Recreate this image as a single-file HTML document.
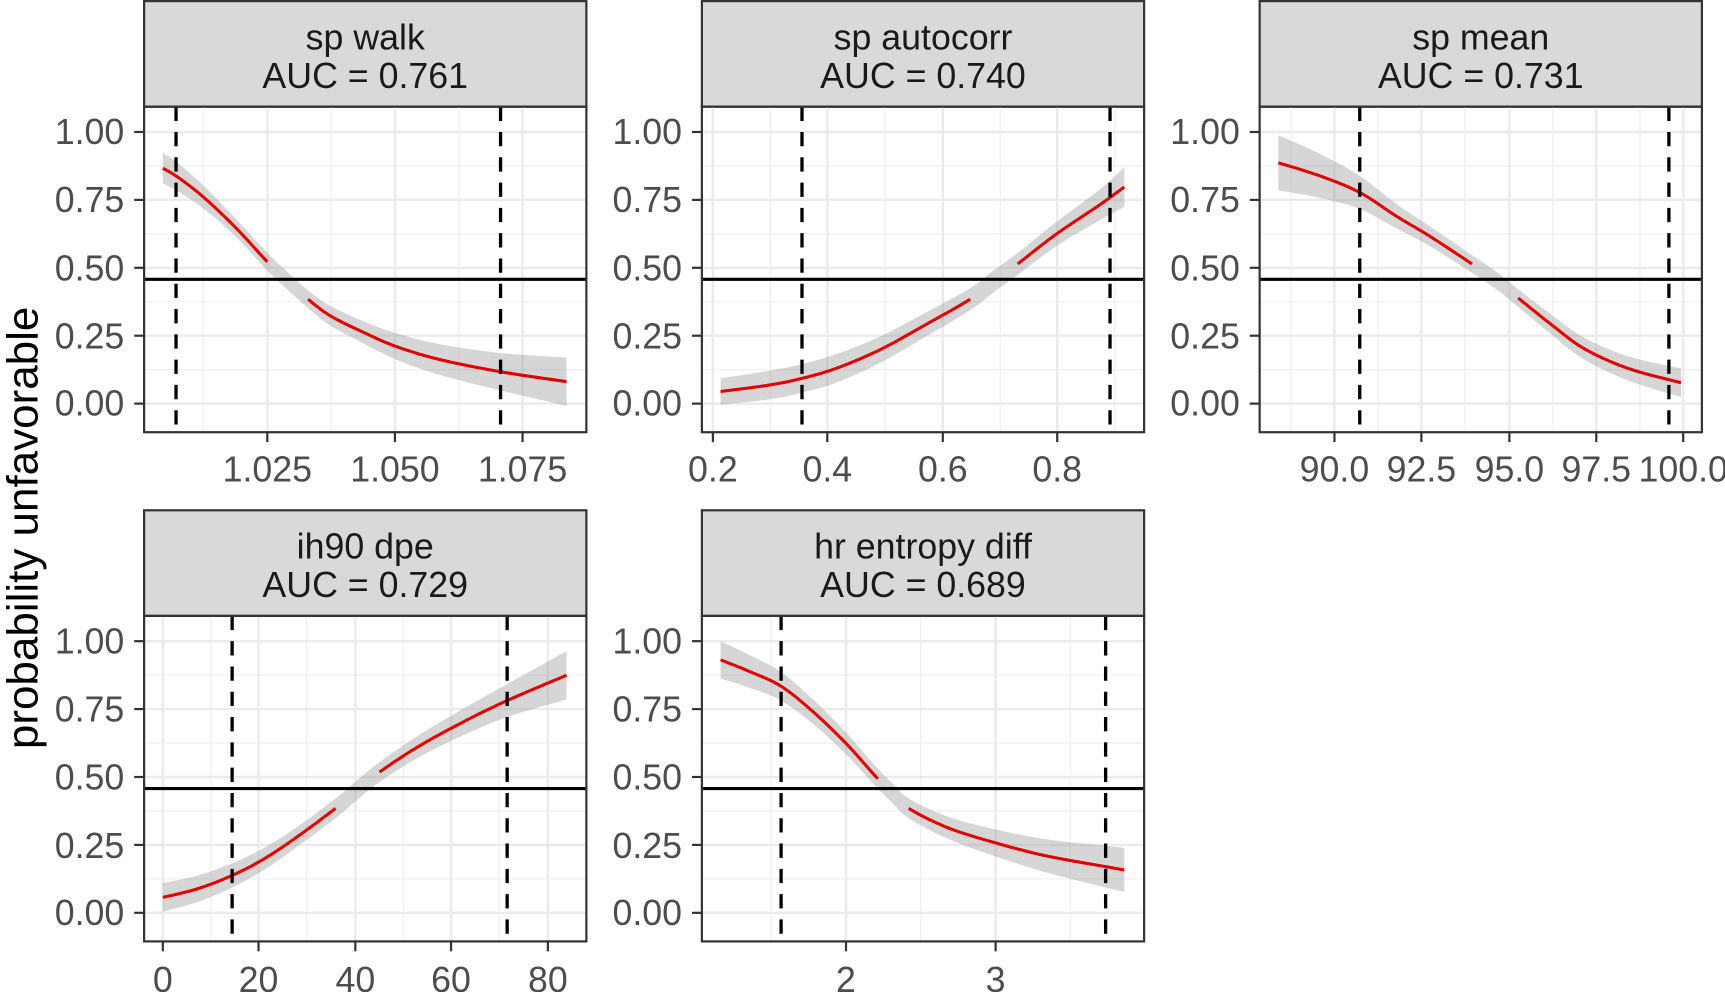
<!DOCTYPE html>
<html><head><meta charset="utf-8"><style>
html,body{margin:0;padding:0;background:#fff;}
svg{display:block;}
text{font-family:"Liberation Sans",Arial,sans-serif;}
.t{font-size:32.5px;fill:#4d4d4d;}
.s{font-size:32.5px;fill:#1a1a1a;text-anchor:middle;}
</style></head><body>
<svg id="c" width="1725" height="992" viewBox="0 0 1568 902" preserveAspectRatio="none" xmlns="http://www.w3.org/2000/svg">
<rect width="1568" height="902" fill="#fff"/>
<g id="g"></g>
<g id="txt">
<text class="s" x="332" y="45">sp walk</text><text class="s" x="332" y="80">AUC = 0.761</text>
<text class="s" x="839" y="45">sp autocorr</text><text class="s" x="839" y="80">AUC = 0.740</text>
<text class="s" x="1346" y="45">sp mean</text><text class="s" x="1346" y="80">AUC = 0.731</text>
<text class="s" x="332" y="508">ih90 dpe</text><text class="s" x="332" y="543">AUC = 0.729</text>
<text class="s" x="839" y="508">hr entropy diff</text><text class="s" x="839" y="543">AUC = 0.689</text>
<g class="t" text-anchor="end">
<text x="113" y="131">1.00</text><text x="113" y="193">0.75</text><text x="113" y="255">0.50</text><text x="113" y="317">0.25</text><text x="113" y="378">0.00</text>
<text x="620" y="131">1.00</text><text x="620" y="193">0.75</text><text x="620" y="255">0.50</text><text x="620" y="317">0.25</text><text x="620" y="378">0.00</text>
<text x="1127" y="131">1.00</text><text x="1127" y="193">0.75</text><text x="1127" y="255">0.50</text><text x="1127" y="317">0.25</text><text x="1127" y="378">0.00</text>
<text x="113" y="594">1.00</text><text x="113" y="656">0.75</text><text x="113" y="718">0.50</text><text x="113" y="780">0.25</text><text x="113" y="841">0.00</text>
<text x="620" y="594">1.00</text><text x="620" y="656">0.75</text><text x="620" y="718">0.50</text><text x="620" y="780">0.25</text><text x="620" y="841">0.00</text>
</g>
<g class="t" text-anchor="middle">
<text x="243" y="438">1.025</text><text x="359" y="438">1.050</text><text x="475" y="438">1.075</text>
<text x="648" y="438">0.2</text><text x="752" y="438">0.4</text><text x="857" y="438">0.6</text><text x="961" y="438">0.8</text>
<text x="1213" y="438">90.0</text><text x="1292" y="438">92.5</text><text x="1372" y="438">95.0</text><text x="1451" y="438">97.5</text><text x="1530" y="438">100.0</text>
<text x="148" y="902">0</text><text x="235" y="902">20</text><text x="323" y="902">40</text><text x="410" y="902">60</text><text x="498" y="902">80</text>
<text x="769" y="902">2</text><text x="905" y="902">3</text>
</g>
<text transform="translate(34,480) rotate(-90)" text-anchor="middle" style="font-size:40px;fill:#000">probability unfavorable</text>
</g>
</svg>
<script>
const NS="http://www.w3.org/2000/svg",G=document.getElementById('g');
function el(t,a){const e=document.createElementNS(NS,t);for(const k in a)e.setAttribute(k,a[k]);G.appendChild(e);return e;}
const P=[
{l:131,top:97,y0:367,xt:[243,359,475],step:116,vl:[160,455],
 pts:[[148,153,14],[160,160,13],[180,175,11],[200,193,9],[220,213,8],[243,238,8],[262,256,8],[280,272,8],[300,287,9],[330,302,10],[360,315,12],[400,327,14],[455,338,17],[515,347,22]],gap:[245,279]},
{l:638,top:97,y0:367,xt:[648,752,857,961],step:104.5,vl:[729,1009],
 pts:[[655,356,12],[700,350,13],[729,344,13],[760,335,13],[800,318,12],[840,296,11],[882,272,10],[903,256,10],[925,240,10],[960,213,11],[1000,186,14],[1022,170,18]],gap:[884,924]},
{l:1145,top:97,y0:367,xt:[1213,1292,1372,1451,1530],step:79.3,vl:[1236,1517],
 pts:[[1162,148,25],[1200,160,20],[1236,175,15],[1270,197,11],[1300,215,9],[1338,240,8],[1360,255,8],[1380,271,8],[1410,295,9],[1440,317,10],[1480,335,11],[1528,348,13]],gap:[1340,1379]},
{l:131,top:560,y0:830,xt:[148,235,323,410,498],step:87.5,vl:[211,461],
 pts:[[148,816,13],[180,808,12],[211,796,11],[240,781,10],[270,761,9],[305,735,9],[325,718,9],[345,702,9],[380,679,10],[420,657,12],[461,637,15],[515,614,22]],gap:[307,344]},
{l:638,top:560,y0:830,xt:[769,905],step:136,vl:[710,1005],
 pts:[[655,600,17],[680,610,15],[710,624,13],[740,648,11],[770,677,10],[796,706,9],[811,721,9],[826,735,9],[860,752,10],[900,765,12],[950,778,15],[1005,788,19],[1022,791,20]],gap:[798,825]}
];
function interp(pts,n){const out=[];for(let i=0;i<pts.length-1;i++){const p0=pts[i-1]||pts[i],p1=pts[i],p2=pts[i+1],p3=pts[i+2]||p2;
 for(let j=0;j<n;j++){const t=j/n,t2=t*t,t3=t2*t;const r=[0,1,2].map(k=>0.5*(2*p1[k]+(-p0[k]+p2[k])*t+(2*p0[k]-5*p1[k]+4*p2[k]-p3[k])*t2+(-p0[k]+3*p1[k]-3*p2[k]+p3[k])*t3));out.push(r);}}
 out.push(pts[pts.length-1]);return out;}
P.forEach(p=>{
 const r=p.l+402,b=p.top+296;
 el('rect',{x:p.l,y:p.top-96,width:402,height:96,fill:'#d9d9d9',stroke:'#333','stroke-width':2});
 for(let v=0.125;v<1.1;v+=0.25)el('line',{x1:p.l,x2:r,y1:p.y0-247*v,y2:p.y0-247*v,stroke:'#f0f0f0','stroke-width':1.2});
 const xs=[p.xt[0]-p.step/2,...p.xt.map(x=>x+p.step/2)];
 xs.forEach(x=>{if(x>p.l&&x<r)el('line',{x1:x,x2:x,y1:p.top,y2:b,stroke:'#f0f0f0','stroke-width':1.2});});
 for(let v=0;v<=1;v+=0.25)el('line',{x1:p.l,x2:r,y1:p.y0-247*v,y2:p.y0-247*v,stroke:'#ebebeb','stroke-width':2.2});
 p.xt.forEach(x=>{if(x>p.l&&x<r)el('line',{x1:x,x2:x,y1:p.top,y2:b,stroke:'#ebebeb','stroke-width':2.2});});
 const c=interp(p.pts,10);
 const up=c.map(q=>q[0]+','+(q[1]-q[2])),lo=c.slice().reverse().map(q=>q[0]+','+(q[1]+q[2]));
 el('polygon',{points:up.concat(lo).join(' '),fill:'#999','fill-opacity':0.4});
 const s1=c.filter(q=>q[0]<=p.gap[0]),s2=c.filter(q=>q[0]>=p.gap[1]);
 [s1,s2].forEach(s=>el('polyline',{points:s.map(q=>q[0]+','+q[1]).join(' '),fill:'none',stroke:'#e00000','stroke-width':2.8}));
 p.vl.forEach(x=>el('line',{x1:x,x2:x,y1:p.top,y2:b,stroke:'#000','stroke-width':3,'stroke-dasharray':'13,10'}));
 const h=p.y0-113;
 el('line',{x1:p.l,x2:r,y1:h,y2:h,stroke:'#000','stroke-width':2.8});
 el('rect',{x:p.l,y:p.top,width:402,height:296,fill:'none',stroke:'#333','stroke-width':2});
 for(let v=0;v<=1;v+=0.25)el('line',{x1:p.l-9,x2:p.l,y1:p.y0-247*v,y2:p.y0-247*v,stroke:'#333','stroke-width':2});
 p.xt.forEach(x=>el('line',{x1:x,x2:x,y1:b,y2:b+9,stroke:'#333','stroke-width':2}));
});
</script>
</body></html>
